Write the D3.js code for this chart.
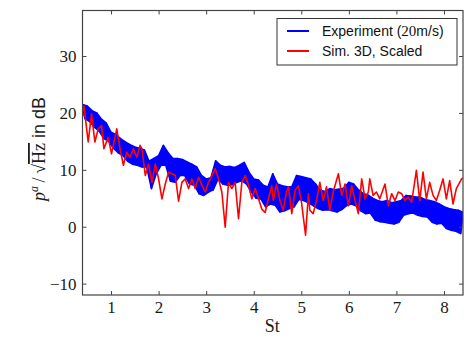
<!DOCTYPE html>
<html>
<head>
<meta charset="utf-8">
<script src="https://cdn.jsdelivr.net/npm/d3@7/dist/d3.min.js"></script>
<style>
  html, body { margin: 0; padding: 0; background: #fff; }
  svg { display: block; }
</style>
</head>
<body>
<svg id="chart" width="474" height="355"></svg>
<script>
// ---------------- DATA ----------------
const xTicks = [1, 2, 3, 4, 5, 6, 7, 8];
const yTicks = [-10, 0, 10, 20, 30];
const xDomain = [0.4, 8.4];
const yDomain = [-12, 38];

const seriesNames = ["Experiment (20m/s)", "Sim. 3D, Scaled"];

// Experiment (noisy band): upper excursions sampled at St = 0.40, 0.50, ... 8.40
const expHiStart = 0.40, expStep = 0.10;
const expHi = [
  21.5, 21.2, 20.4, 20, 18.9, 18.2, 16.6, 16.2, 15.5, 14.9,
  14.4, 14, 13.8, 13.5, 11.5, 12, 12.5, 14.3, 13, 12,
  12, 11.8, 11.4, 11, 10.5, 9, 8.4, 8.6, 11.6, 10.8,
  10.5, 10.6, 10.4, 10.8, 11.3, 9.6, 8.4, 8.2, 7.3, 7,
  9.3, 7.5, 7.2, 7, 7, 9, 8.8, 8.6, 8.4, 7.5,
  6.4, 6.2, 6.7, 6.5, 6.6, 6.8, 7.8, 7.5, 6.5, 5.8,
  5.6, 5, 4.6, 4.4, 4.6, 4.2, 4.4, 4.6, 5.5, 5.4,
  5.2, 5.2, 4.8, 4.6, 4.4, 4, 3.5, 3.2, 3, 2.9,
  2.5
];
// lower excursions sampled at St = 0.45, 0.55, ... 8.35
const expLoStart = 0.45;
const expLo = [
  19, 18.5, 17.5, 16.8, 15.5, 15, 13.8, 13, 12.5, 11.5,
  11, 10.8, 10.5, 10.5, 6.7, 9.3, 10.8, 10.8, 8, 7.8,
  9, 9, 7.5, 7.3, 5.8, 5.5, 6.1, 6.5, 8.4, 7.5,
  7.3, 7.4, 7.8, 8.1, 7.5, 6.1, 5, 4.9, 3.5, 4,
  3.8, 2.6, 2.8, 3.2, 3.5, 4.8, 4.6, 4.2, 3.7, 3.2,
  2.9, 3, 2.8, 2.6, 3, 3.7, 4, 3.7, 2.8, 2.3,
  2.4, 1.2, 0.9, 0.8, 0.6, 0.5, 0.8, 2, 2.3, 2.4,
  2, 1.8, 1.7, 0.8, 0.5, 0.6, -0.3, -0.6, -0.8, -1.2
];

// Simulation (scaled)
const simSt = [
  0.40, 0.43, 0.52, 0.59, 0.66, 0.73, 0.80, 0.85, 0.94, 1.01,
  1.12, 1.19, 1.26, 1.33, 1.40, 1.47, 1.54, 1.61, 1.65, 1.72,
  1.79, 1.86, 1.93, 2.00, 2.07, 2.14, 2.21, 2.28, 2.35, 2.42,
  2.49, 2.56, 2.63, 2.70, 2.77, 2.84, 2.91, 2.98, 3.05, 3.12,
  3.19, 3.26, 3.33, 3.40, 3.47, 3.54, 3.61, 3.68, 3.75, 3.82,
  3.89, 3.96, 4.03, 4.10, 4.17, 4.24, 4.31, 4.38, 4.41, 4.48,
  4.55, 4.62, 4.69, 4.73, 4.80, 4.87, 4.94, 5.00, 5.09, 5.15,
  5.18, 5.25, 5.32, 5.39, 5.46, 5.53, 5.60, 5.67, 5.78, 5.85,
  5.92, 5.99, 6.06, 6.13, 6.20, 6.27, 6.34, 6.41, 6.44, 6.51,
  6.58, 6.65, 6.76, 6.83, 6.90, 6.97, 7.04, 7.11, 7.18, 7.25,
  7.32, 7.42, 7.49, 7.56, 7.63, 7.70, 7.77, 7.84, 7.91, 7.98,
  8.05, 8.12, 8.19, 8.26, 8.37, 8.43
];
const simDb = [
  20.1, 21.2, 14.9, 19.8, 14.9, 17.2, 17.8, 13.7, 15.7, 12.8,
  17.2, 13.7, 10.8, 13.1, 12.2, 13.7, 12.2, 14.3, 13.7, 9.0,
  11.0, 7.8, 11, 8.4, 4.9, 7.5, 9.6, 9.3, 9.0, 4.5,
  7.8, 8.4, 6.7, 8.4, 6.7, 8.7, 7.3, 6.1, 7.8, 9.0,
  10.2, 8.4, 6.1, -0.1, 7.8, 6.7, 7.8, 1.4, 7.8, 9.0,
  7.3, 4.9, 6.7, 4.9, 3.1, 2.5, 5, 7.2, 4.6, 7.5,
  4.6, 2.9, 6.1, 7.0, 2.3, 6.4, 7.2, 4.6, -1.5, 5.8,
  2.9, 2.3, 4.6, 7.8, 4.6, 7.0, 2.9, 6.1, 9.3, 5.5,
  7.5, 3.7, 7.2, 4.6, 2.3, 8.4, 4.9, 6.1, 8.4, 5.5,
  6.1, 4.9, 7.5, 3.7, 5.8, 4.6, 6.1, 5.8, 4.6, 5.2,
  4.3, 9.9, 4.6, 9.6, 4.9, 7.8, 5.5, 4.6, 6.4, 8.4,
  4.9, 8.1, 4.0, 6.7, 8.4, 8.7
];

// ---------------- CHART ----------------
const plot = { left: 82.5, right: 463, top: 10.5, bottom: 295 };
const svg = d3.select("#chart");

const x = d3.scaleLinear().domain(xDomain).range([plot.left, plot.right]);
const y = d3.scaleLinear().domain(yDomain).range([plot.bottom, plot.top]);

const frameColor = "#444";
const serif = "'Liberation Serif', 'DejaVu Serif', serif";
const sans = "'Liberation Sans', Arial, sans-serif";

svg.append("defs").append("clipPath").attr("id", "clip")
  .append("rect")
  .attr("x", plot.left).attr("y", plot.top)
  .attr("width", plot.right - plot.left).attr("height", plot.bottom - plot.top);

// data points
const hiPts = expHi.map((v, i) => ({ st: expHiStart + i * expStep, db: v }));
const loPts = expLo.map((v, i) => ({ st: expLoStart + i * expStep, db: v }));
// zig-zag trace of the noisy experiment (alternating upper / lower excursion)
const zig = [];
hiPts.forEach((p, i) => { zig.push(p); if (loPts[i]) zig.push(loPts[i]); });
// closed band outline: upper excursions forward, lower excursions back
const band = hiPts.concat(loPts.slice().reverse());
const simData = simSt.map((s, i) => ({ st: s, db: simDb[i] }));

const line = d3.line().x(d => x(d.st)).y(d => y(d.db));

const g = svg.append("g").attr("clip-path", "url(#clip)");
g.append("path").datum(band)
  .attr("d", line(band) + "Z")
  .attr("fill", "#0000ff").attr("stroke", "#0000ff")
  .attr("stroke-width", 1.6).attr("stroke-linejoin", "round");
g.append("path").datum(zig)
  .attr("d", line)
  .attr("fill", "none").attr("stroke", "#0000ff")
  .attr("stroke-width", 1.4).attr("stroke-linejoin", "round");
g.append("path").datum(simData)
  .attr("d", line)
  .attr("fill", "none").attr("stroke", "#ff0000")
  .attr("stroke-width", 1.6).attr("stroke-linejoin", "round");

// axes
function styleAxis(sel) {
  sel.select(".domain").remove();
  sel.selectAll(".tick line").attr("stroke", frameColor).attr("stroke-width", 1);
  sel.selectAll(".tick text").attr("fill", "#1a1a1a")
    .style("font-family", serif).style("font-size", "17px");
}
const fmt = d => d < 0 ? "\u2212" + Math.abs(d) : String(d);

svg.append("g").attr("transform", `translate(0,${plot.bottom})`)
  .call(d3.axisBottom(x).tickValues(xTicks).tickSizeInner(-4).tickSizeOuter(0).tickPadding(6).tickFormat(fmt))
  .call(styleAxis);
svg.append("g").attr("transform", `translate(0,${plot.top})`)
  .call(d3.axisTop(x).tickValues(xTicks).tickSizeInner(-4).tickSizeOuter(0).tickFormat(""))
  .call(styleAxis);
svg.append("g").attr("transform", `translate(${plot.left},0)`)
  .call(d3.axisLeft(y).tickValues(yTicks).tickSizeInner(-4).tickSizeOuter(0).tickPadding(6).tickFormat(fmt))
  .call(styleAxis);
svg.append("g").attr("transform", `translate(${plot.right},0)`)
  .call(d3.axisRight(y).tickValues(yTicks).tickSizeInner(-4).tickSizeOuter(0).tickFormat(""))
  .call(styleAxis);

svg.append("rect")
  .attr("x", plot.left).attr("y", plot.top)
  .attr("width", plot.right - plot.left).attr("height", plot.bottom - plot.top)
  .attr("fill", "none").attr("stroke", frameColor).attr("stroke-width", 1.2);

// x label
svg.append("text")
  .attr("x", (plot.left + plot.right) / 2 - 0.5).attr("y", 332)
  .attr("text-anchor", "middle")
  .style("font-family", serif).style("font-size", "18px").attr("fill", "#1a1a1a")
  .text("St");

// y label
const yl = svg.append("text")
  .attr("transform", "translate(45,149) rotate(-90)")
  .attr("text-anchor", "middle")
  .attr("fill", "#1a1a1a")
  .style("font-size", "18px");
yl.append("tspan").style("font-family", serif).style("font-style", "italic").text("p");
yl.append("tspan").style("font-family", serif).style("font-style", "italic")
  .style("font-size", "12px").attr("dy", "-7").text("a");
yl.append("tspan").style("font-family", serif).attr("dy", "7").text("\u2009/\u2009");
yl.append("tspan").style("font-family", serif).text("\u221A");
yl.append("tspan").style("font-family", serif).style("text-decoration", "overline").text("Hz");
yl.append("tspan").style("font-family", sans).text(" in dB");

// legend
const lg = svg.append("g");
lg.append("rect")
  .attr("x", 277).attr("y", 18.5).attr("width", 180).attr("height", 46.5)
  .attr("fill", "#fff").attr("stroke", "#333").attr("stroke-width", 1);
const legendColors = ["#0000ff", "#ff0000"];
seriesNames.forEach((name, i) => {
  const cy = 31 + i * 20;
  lg.append("line")
    .attr("x1", 287).attr("x2", 309).attr("y1", cy).attr("y2", cy)
    .attr("stroke", legendColors[i]).attr("stroke-width", 2);
  const t = lg.append("text").attr("x", 322).attr("y", cy + 5)
    .attr("fill", "#111")
    .style("font-family", sans).style("font-size", "14px");
  if (i === 0) {
    t.append("tspan").text("Experiment (");
    t.append("tspan").style("font-family", serif).style("font-size", "15px").text("20");
    t.append("tspan").text("m/s)");
  } else {
    t.text(name);
  }
});
</script>
</body>
</html>
